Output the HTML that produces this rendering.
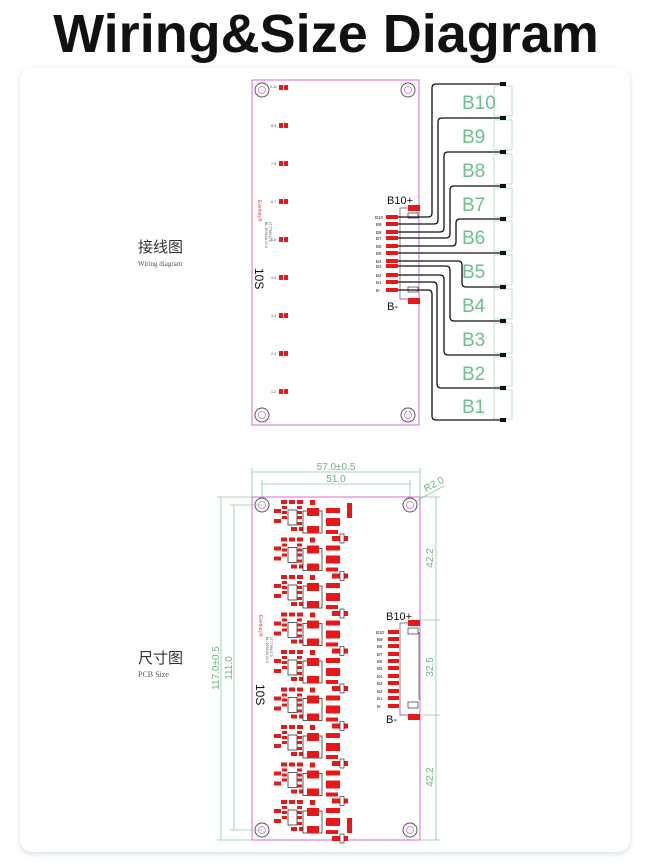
<!DOCTYPE html>
<html><head><meta charset="utf-8"><style>
html,body{margin:0;padding:0;background:#fff;width:650px;height:867px;overflow:hidden}
</style></head><body>
<svg width="650" height="867" viewBox="0 0 650 867" xmlns="http://www.w3.org/2000/svg" font-family="Liberation Sans, Noto Sans CJK SC, sans-serif">
<defs>
<filter id="sh" x="-5%" y="-5%" width="110%" height="110%"><feGaussianBlur stdDeviation="3"/></filter>
<g id="comp">
  <rect x="274" y="9" width="7" height="4" fill="#e81818"/>
  <rect x="274" y="19" width="7" height="4" fill="#e81818"/>
  <rect x="281" y="0" width="6" height="4" fill="#e81818"/>
  <rect x="289" y="0" width="6" height="4" fill="#e81818"/>
  <rect x="297" y="0" width="6" height="4" fill="#e81818"/>
  <rect x="282" y="6" width="5" height="3" fill="#e81818"/>
  <rect x="282" y="11" width="5" height="3" fill="#e81818"/>
  <rect x="282" y="16" width="5" height="3" fill="#e81818"/>
  <rect x="288" y="10" width="9" height="15" fill="none" stroke="#333" stroke-width="0.8"/>
  <rect x="297" y="6" width="5" height="3" fill="#e81818"/>
  <rect x="297" y="11" width="5" height="3" fill="#e81818"/>
  <rect x="297" y="16" width="5" height="3" fill="#e81818"/>
  <rect x="297" y="22" width="5" height="3" fill="#e81818"/>
  <rect x="291" y="27" width="6" height="4" fill="#e81818"/>
  <rect x="299" y="27" width="4" height="4" fill="#e81818"/>
  <rect x="310" y="0" width="5" height="5" fill="#e81818"/>
  <rect x="303" y="11" width="19" height="22" fill="none" stroke="#333" stroke-width="0.8"/>
  <rect x="307" y="8" width="12" height="8" fill="#e81818"/>
  <rect x="307" y="26" width="12" height="7" fill="#e81818"/>
  <rect x="326" y="8" width="14" height="5" fill="#e81818"/>
  <rect x="326" y="18" width="14" height="8" fill="#e81818"/>
  <rect x="326" y="30" width="12" height="4" fill="#e81818"/>
  <rect x="332" y="36" width="16" height="5" fill="#e81818"/>
  <rect x="340" y="34" width="4" height="9" fill="#fff" stroke="#333" stroke-width="0.7"/>
</g>
</defs>
<rect x="20" y="70" width="610" height="784" rx="12" fill="#d6e0ec" filter="url(#sh)"/>
<rect x="20" y="68" width="610" height="784" rx="12" fill="#fff"/>
<text x="326" y="52" text-anchor="middle" font-size="54" font-weight="bold" fill="#111">Wiring&amp;Size  Diagram</text>

<text x="138" y="252" font-size="15" fill="#333">接线图</text>
<text x="138" y="266" font-size="7" fill="#555" font-family="Liberation Serif, serif">Wiring diagram</text>
<text x="138" y="663" font-size="15" fill="#333">尺寸图</text>
<text x="138" y="677" font-size="8" fill="#555" font-family="Liberation Serif, serif">PCB Size</text>

<!-- TOP BOARD -->
<rect x="252" y="80" width="167" height="345" fill="none" stroke="#d86ad8" stroke-width="1"/>
<g fill="none" stroke="#555" stroke-width="1">
<circle cx="262" cy="90" r="7"/><circle cx="408" cy="90" r="7"/><circle cx="262" cy="415" r="7"/><circle cx="408" cy="415" r="7"/>
</g>
<g fill="none" stroke="#d86ad8" stroke-width="0.8">
<circle cx="262" cy="90" r="3.5"/><circle cx="408" cy="90" r="3.5"/><circle cx="262" cy="415" r="3.5"/><circle cx="408" cy="415" r="3.5"/>
</g>
<g fill="#e81818">
<rect x="279" y="85" width="4" height="5"/><rect x="284" y="85" width="4" height="5"/>
<rect x="279" y="123" width="4" height="5"/><rect x="284" y="123" width="4" height="5"/>
<rect x="279" y="161" width="4" height="5"/><rect x="284" y="161" width="4" height="5"/>
<rect x="279" y="199" width="4" height="5"/><rect x="284" y="199" width="4" height="5"/>
<rect x="279" y="237" width="4" height="5"/><rect x="284" y="237" width="4" height="5"/>
<rect x="279" y="275" width="4" height="5"/><rect x="284" y="275" width="4" height="5"/>
<rect x="279" y="313" width="4" height="5"/><rect x="284" y="313" width="4" height="5"/>
<rect x="279" y="351" width="4" height="5"/><rect x="284" y="351" width="4" height="5"/>
<rect x="279" y="389" width="4" height="5"/><rect x="284" y="389" width="4" height="5"/>
</g>
<g font-size="3.5" fill="#555">
<text x="270" y="88">9-10</text><text x="271" y="127">8-9</text><text x="271" y="165">7-8</text><text x="271" y="203">6-7</text><text x="271" y="241">5-6</text><text x="271" y="279">4-5</text><text x="271" y="317">3-4</text><text x="271" y="355">2-3</text><text x="271" y="393">1-2</text>
</g>
<text transform="translate(258,200) rotate(90)" font-size="5" fill="#e04040">Everkey®</text>
<text transform="translate(265,222) rotate(90)" font-size="3.5" fill="#555">BL-10S15A V1.0</text>
<text transform="translate(269,222) rotate(90)" font-size="3.5" fill="#555">LT7798V175</text>
<text transform="translate(255,268) rotate(90)" font-size="12" fill="#111">10S</text>

<!-- connector top -->
<text x="387" y="204" font-size="11" fill="#111">B10+</text>
<text x="387" y="310" font-size="11" fill="#111">B-</text>
<rect x="408" y="205" width="12" height="6" fill="#e81818"/>
<rect x="408" y="298" width="12" height="6" fill="#e81818"/>
<rect x="408" y="213" width="10" height="5" fill="none" stroke="#333" stroke-width="0.7"/>
<rect x="408" y="287" width="10" height="5" fill="none" stroke="#333" stroke-width="0.7"/>
<path d="M408 208 H400 V299 H408" fill="none" stroke="#555" stroke-width="0.7"/>
<g fill="#e81818">
<rect x="386" y="215" width="12" height="4"/><rect x="386" y="222" width="12" height="4"/><rect x="386" y="230" width="12" height="4"/><rect x="386" y="236" width="12" height="4"/><rect x="386" y="244" width="12" height="4"/><rect x="386" y="251" width="12" height="4"/><rect x="386" y="259" width="12" height="4"/><rect x="386" y="264" width="12" height="4"/><rect x="386" y="273" width="12" height="4"/><rect x="386" y="280" width="12" height="4"/><rect x="386" y="288" width="12" height="4"/>
</g>
<g font-size="4.5" fill="#222">
<text x="375" y="219">B10</text><text x="376" y="226">B9</text><text x="376" y="234">B8</text><text x="376" y="240">B7</text><text x="376" y="248">B6</text><text x="376" y="255">B5</text><text x="376" y="263">B4</text><text x="376" y="268">B3</text><text x="376" y="277">B2</text><text x="376" y="284">B1</text><text x="376" y="292">B-</text>
</g>
<!-- wires -->
<g fill="none" stroke="#111" stroke-width="1.3" stroke-linejoin="round">
<path d="M398 217 H428 Q432 217 432 213 V88 Q432 84 436 84 H505"/>
<path d="M398 224 H434 Q438 224 438 220 V122 Q438 118 442 118 H505"/>
<path d="M398 232 H440 Q444 232 444 228 V156 Q444 152 448 152 H505"/>
<path d="M398 238 H446 Q450 238 450 234 V190 Q450 186 454 186 H505"/>
<path d="M398 246 H452 Q456 246 456 242 V223 Q456 219 460 219 H505"/>
<path d="M398 253 H505"/>
<path d="M398 261 H458 Q462 261 462 265 V283 Q462 287 466 287 H505"/>
<path d="M398 266 H446 Q450 266 450 270 V317 Q450 321 454 321 H505"/>
<path d="M398 275 H440 Q444 275 444 279 V351 Q444 355 448 355 H505"/>
<path d="M398 282 H433 Q437 282 437 286 V384 Q437 388 441 388 H505"/>
<path d="M398 290 H428 Q432 290 432 294 V416 Q432 420 436 420 H505"/>
</g>
<!-- batteries -->
<g fill="none" stroke="#b5d9c2" stroke-width="0.8">
<rect x="494" y="86" width="18" height="30"/><rect x="494" y="120" width="18" height="30"/><rect x="494" y="154" width="18" height="30"/><rect x="494" y="188" width="18" height="29"/><rect x="494" y="221" width="18" height="30"/><rect x="494" y="255" width="18" height="30"/><rect x="494" y="289" width="18" height="30"/><rect x="494" y="323" width="18" height="30"/><rect x="494" y="357" width="18" height="29"/><rect x="494" y="390" width="18" height="29"/>
</g>
<g fill="#111">
<rect x="500" y="82" width="6" height="4"/><rect x="500" y="116" width="6" height="4"/><rect x="500" y="150" width="6" height="4"/><rect x="500" y="184" width="6" height="4"/><rect x="500" y="217" width="6" height="4"/><rect x="500" y="251" width="6" height="4"/><rect x="500" y="285" width="6" height="4"/><rect x="500" y="319" width="6" height="4"/><rect x="500" y="353" width="6" height="4"/><rect x="500" y="386" width="6" height="4"/><rect x="500" y="418" width="6" height="4"/>
</g>
<g font-size="19" fill="#6cc08a">
<text x="462" y="109">B10</text><text x="462" y="143">B9</text><text x="462" y="177">B8</text><text x="462" y="211">B7</text><text x="462" y="244">B6</text><text x="462" y="278">B5</text><text x="462" y="312">B4</text><text x="462" y="346">B3</text><text x="462" y="380">B2</text><text x="462" y="413">B1</text>
</g>

<!-- BOTTOM BOARD -->
<rect x="252" y="497" width="168" height="343" fill="none" stroke="#d86ad8" stroke-width="1"/>
<g fill="none" stroke="#555" stroke-width="1">
<circle cx="262" cy="505" r="7"/><circle cx="410" cy="505" r="7"/><circle cx="262" cy="830" r="7"/><circle cx="410" cy="830" r="7"/>
</g>
<g fill="none" stroke="#d86ad8" stroke-width="0.8">
<circle cx="262" cy="505" r="3.5"/><circle cx="410" cy="505" r="3.5"/><circle cx="262" cy="830" r="3.5"/><circle cx="410" cy="830" r="3.5"/>
</g>
<use href="#comp" transform="translate(0,500)"/>
<use href="#comp" transform="translate(0,537.5)"/>
<use href="#comp" transform="translate(0,575)"/>
<use href="#comp" transform="translate(0,612.5)"/>
<use href="#comp" transform="translate(0,650)"/>
<use href="#comp" transform="translate(0,687.5)"/>
<use href="#comp" transform="translate(0,725)"/>
<use href="#comp" transform="translate(0,762.5)"/>
<use href="#comp" transform="translate(0,800)"/>
<rect x="347" y="503" width="5" height="15" fill="#e81818"/>
<rect x="347" y="818" width="5" height="15" fill="#e81818"/>
<text transform="translate(259,615) rotate(90)" font-size="5" fill="#e04040">Everkey®</text>
<text transform="translate(266,637) rotate(90)" font-size="3.5" fill="#555">BL-10S15A V1.0</text>
<text transform="translate(270,637) rotate(90)" font-size="3.5" fill="#555">LT7798V175</text>
<text transform="translate(256,684) rotate(90)" font-size="12" fill="#111">10S</text>

<text x="386" y="620" font-size="11" fill="#111">B10+</text>
<text x="386" y="723" font-size="11" fill="#111">B-</text>
<rect x="408" y="620" width="12" height="6" fill="#e81818"/>
<rect x="408" y="714" width="12" height="6" fill="#e81818"/>
<rect x="408" y="628" width="10" height="6" fill="none" stroke="#333" stroke-width="0.7"/>
<rect x="408" y="702" width="10" height="6" fill="none" stroke="#333" stroke-width="0.7"/>
<path d="M408 623 H400 V715 H408" fill="none" stroke="#555" stroke-width="0.7"/>
<path d="M419 632 V700" fill="none" stroke="#555" stroke-width="0.7"/>
<g fill="#e81818">
<rect x="388" y="630" width="11" height="4"/><rect x="388" y="637" width="11" height="4"/><rect x="388" y="644" width="11" height="4"/><rect x="388" y="652" width="11" height="4"/><rect x="388" y="659" width="11" height="4"/><rect x="388" y="666" width="11" height="4"/><rect x="388" y="674" width="11" height="4"/><rect x="388" y="681" width="11" height="4"/><rect x="388" y="689" width="11" height="4"/><rect x="388" y="696" width="11" height="4"/><rect x="388" y="704" width="11" height="4"/>
</g>
<g font-size="4.5" fill="#222">
<text x="376" y="634">B10</text><text x="377" y="641">B9</text><text x="377" y="648">B8</text><text x="377" y="656">B7</text><text x="377" y="663">B6</text><text x="377" y="670">B5</text><text x="377" y="678">B4</text><text x="377" y="685">B3</text><text x="377" y="693">B2</text><text x="377" y="700">B1</text><text x="377" y="708">B-</text>
</g>

<!-- dimensions -->
<g stroke="#8cc99c" stroke-width="0.8" fill="none">
<path d="M252 497 V468 M420 497 V468 M252 472 H420"/>
<path d="M262 497 V480 M410 497 V480 M262 484 H410"/>
<path d="M252 497 H217 M252 840 H217 M221 497 V840"/>
<path d="M262 505 H230 M262 830 H230 M234 505 V830"/>
<path d="M416 501 L444 486"/>
<path d="M420 497 H440 M420 620 H440 M420 715 H440 M420 840 H440 M436 497 V840"/>
</g>
<g fill="#6cb47f" font-size="10">
<text x="336" y="470" text-anchor="middle">57.0±0.5</text>
<text x="336" y="482" text-anchor="middle">51.0</text>
<text transform="translate(219,668) rotate(-90)" text-anchor="middle">117.0±0.5</text>
<text transform="translate(232,668) rotate(-90)" text-anchor="middle">111.0</text>
<text transform="translate(433,558) rotate(-90)" text-anchor="middle">42.2</text>
<text transform="translate(433,667) rotate(-90)" text-anchor="middle">32.5</text>
<text transform="translate(433,777) rotate(-90)" text-anchor="middle">42.2</text>
<text transform="translate(426,492) rotate(-28)">R2.0</text>
</g>
</svg>
</body></html>
